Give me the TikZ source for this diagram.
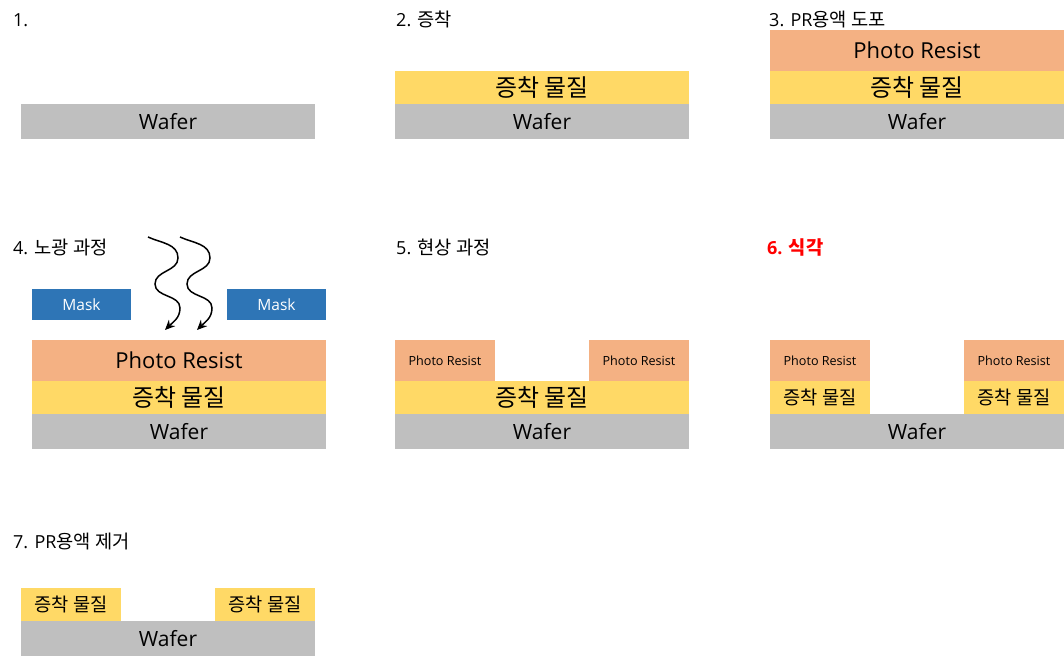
\documentclass[tikz,border=0pt]{standalone}
\usepackage{fontspec}
\setmainfont{Open Sans}
\newfontfamily\kr{Noto Sans CJK KR}[Scale=1.04]
\usetikzlibrary{positioning,arrows.meta}
\definecolor{waferGray}{HTML}{BFBFBF}
\definecolor{depoYellow}{HTML}{FFD966}
\definecolor{resistOrange}{HTML}{F4B183}
\definecolor{maskBlue}{HTML}{2E75B6}
\definecolor{stepRed}{HTML}{FF0000}
\begin{document}
\begin{tikzpicture}[x=1pt,y=1pt,
            layer/.style={inner sep=0pt,outer sep=0pt,minimum width=294pt,text=black,
                font=\fontsize{21}{25}\selectfont},
            wafer/.style={layer,fill=waferGray,minimum height=35pt},
            depo/.style={layer,fill=depoYellow,minimum height=33pt,font=\fontsize{23}{27}\selectfont\kr},
            resist/.style={layer,fill=resistOrange,minimum height=41pt,font=\fontsize{22}{26}\selectfont},
            block/.style={minimum width=100pt},
            small/.style={font=\fontsize{12.6}{15}\selectfont},
            mid/.style={font=\fontsize{18}{21}\selectfont\kr},
            mask/.style={layer,fill=maskBlue,text=white,minimum width=99pt,minimum height=31pt,
                font=\fontsize{15.5}{18}\selectfont},
            title/.style={anchor=base west,inner sep=0pt,font=\fontsize{18}{21}\selectfont},
            ray/.style={-{Stealth[length=10pt,width=9pt]},line width=1.5pt}]

        \useasboundingbox (0,0) rectangle (1064,669);

        % Titles
        \node[title] (t1) at (13,642) {1.};
        \node[title] (t2) at (396,642) {2. {\kr 증착}};
        \node[title] (t3) at (769,642) {3. PR{\kr 용액 도포}};
        \node[title] (t4) at (13,414) {4. {\kr 노광 과정}};
        \node[title] (t5) at (396,414) {5. {\kr 현상 과정}};
        \node[title,text=stepRed,font=\fontsize{18}{21}\selectfont\bfseries] (t6) at (767,414) {6. {\kr 식각}};
        \node[title] (t7) at (13,121) {7. PR{\kr 용액 제거}};

        % 1.
        \node[wafer,anchor=north west] (wafer1) at (21,565) {Wafer};

        % 2.
        \node[wafer,anchor=north west] (wafer2) at (395,565) {Wafer};
        \node[depo] (depo2) [above=0pt of wafer2] {증착 물질};

        % 3.
        \node[wafer,anchor=north west] (wafer3) at (770,565) {Wafer};
        \node[depo] (depo3) [above=0pt of wafer3] {증착 물질};
        \node[resist] (resist3) [above=0pt of depo3] {Photo Resist};

        % 4.
        \node[wafer,anchor=north west] (wafer4) at (32,255) {Wafer};
        \node[depo] (depo4) [above=0pt of wafer4] {증착 물질};
        \node[resist] (resist4) [above=0pt of depo4] {Photo Resist};
        \node[mask] (maskL) [above right=20pt and 0pt of resist4.north west] {Mask};
        \node[mask] (maskR) [above left=20pt and 0pt of resist4.north east] {Mask};

        \coordinate (ray1) at (148,432);
        \coordinate (ray2) at (180,432);
        \draw[ray] (ray1) to[out=-25,in=90] ++(30,-21) to[out=-90,in=90] ++(-23,-26)
            to[out=-90,in=90] ++(25,-24) to[out=-90,in=45] ++(-15,-22);
        \draw[ray] (ray2) to[out=-25,in=90] ++(30,-21) to[out=-90,in=90] ++(-23,-26)
            to[out=-90,in=90] ++(25,-24) to[out=-90,in=45] ++(-15,-22);

        % 5.
        \node[wafer,anchor=north west] (wafer5) at (395,255) {Wafer};
        \node[depo] (depo5) [above=0pt of wafer5] {증착 물질};
        \node[resist,block,small] (resist5L) [above right=0pt and 0pt of depo5.north west] {Photo Resist};
        \node[resist,block,small] (resist5R) [above left=0pt and 0pt of depo5.north east] {Photo Resist};

        % 6.
        \node[wafer,anchor=north west] (wafer6) at (770,255) {Wafer};
        \node[depo,block,mid] (depo6L) [above right=0pt and 0pt of wafer6.north west] {증착 물질};
        \node[depo,block,mid] (depo6R) [above left=0pt and 0pt of wafer6.north east] {증착 물질};
        \node[resist,block,small] (resist6L) [above=0pt of depo6L] {Photo Resist};
        \node[resist,block,small] (resist6R) [above=0pt of depo6R] {Photo Resist};

        % 7.
        \node[wafer,anchor=north west] (wafer7) at (21,48) {Wafer};
        \node[depo,block,mid] (depo7L) [above right=0pt and 0pt of wafer7.north west] {증착 물질};
        \node[depo,block,mid] (depo7R) [above left=0pt and 0pt of wafer7.north east] {증착 물질};

\end{tikzpicture}
\end{document}
